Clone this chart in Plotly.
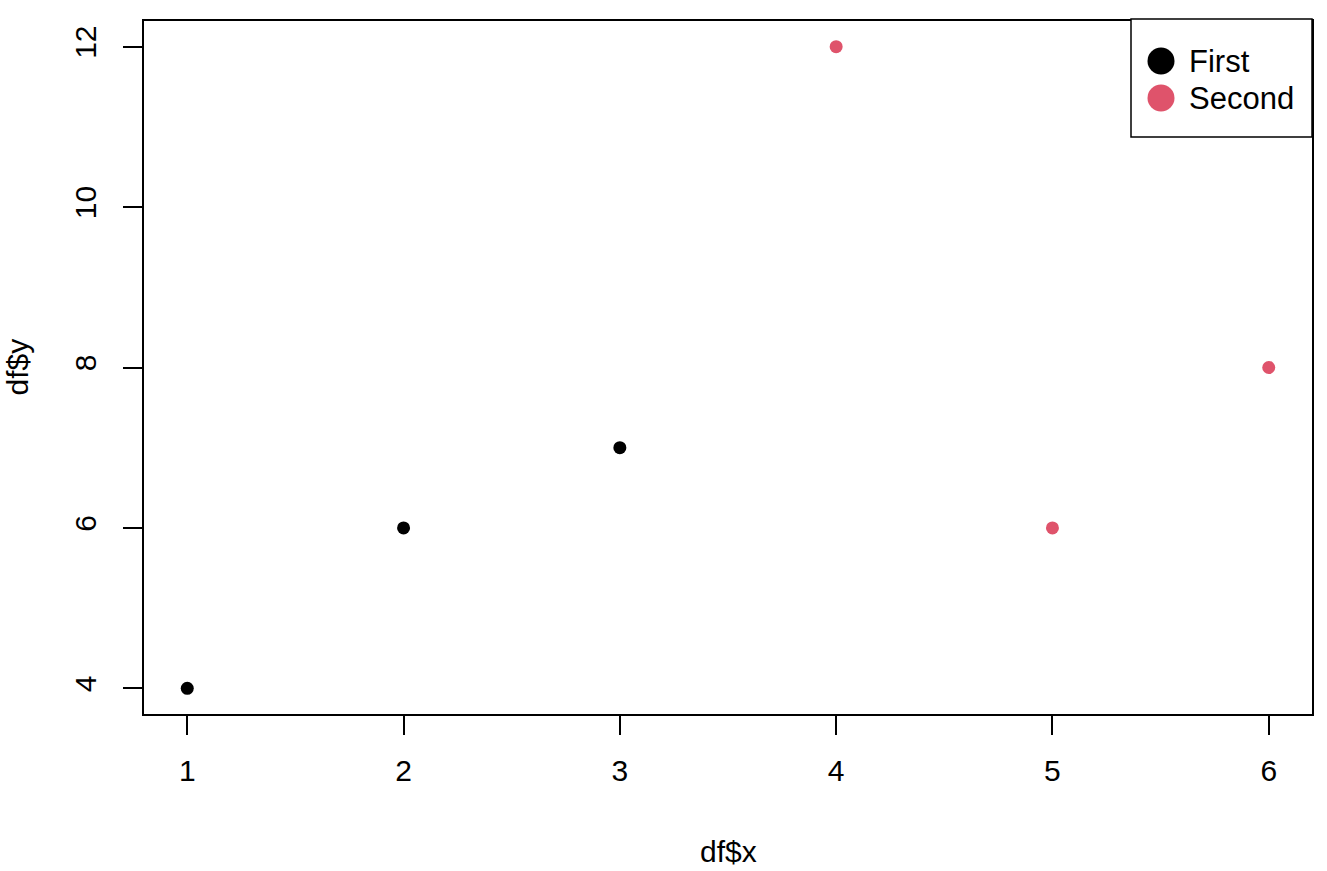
import plotly.graph_objects as go

# data
x_first = [1, 2, 3]
y_first = [4, 6, 7]
x_second = [4, 5, 6]
y_second = [12, 6, 8]
group_names = ["First", "Second"]
group_colors = ["#000000", "#DF536B"]

x_ticks = [1, 2, 3, 4, 5, 6]
y_ticks = [4, 6, 8, 10, 12]

font = "Liberation Sans, Arial, sans-serif"
fs = 30

# plot region in pixels (R-style device)
W, H = 1327, 871
L, R, T, B = 144, 15, 21, 157
pw, ph = W - L - R, H - T - B

fig = go.Figure()
fig.add_trace(go.Scatter(x=x_first, y=y_first, mode="markers", name=group_names[0],
                         marker=dict(color=group_colors[0], size=13)))
fig.add_trace(go.Scatter(x=x_second, y=y_second, mode="markers", name=group_names[1],
                         marker=dict(color=group_colors[1], size=13)))

axis_common = dict(
    showgrid=False, zeroline=False, automargin=False,
    showline=True, linecolor="black", linewidth=1.5, mirror=True,
    ticks="outside", ticklen=19, tickwidth=1.5, tickcolor="black",
    tickfont=dict(family=font, size=fs, color="black"),
)

fig.update_layout(
    width=W, height=H,
    margin=dict(l=L, r=R, t=T, b=B),
    paper_bgcolor="white", plot_bgcolor="white",
    showlegend=False,
    xaxis=dict(range=[0.8, 6.2], tickvals=x_ticks, ticklabelstandoff=10, **axis_common),
    yaxis=dict(range=[3.68, 12.32], tickvals=y_ticks, tickangle=-90,
               ticklabelstandoff=15, **axis_common),
)

# axis titles
fig.add_annotation(x=0.5, y=-(851 - (H - B)) / ph, xref="paper", yref="paper",
                   text="df$x", showarrow=False, xanchor="center", yanchor="middle",
                   font=dict(family=font, size=fs, color="black"))
fig.add_annotation(x=-(L - 17) / pw, y=0.5, xref="paper", yref="paper",
                   text="df$y", showarrow=False, textangle=-90,
                   xanchor="center", yanchor="middle",
                   font=dict(family=font, size=fs, color="black"))

# legend box drawn by hand (R style)
legend_top = 19
fig.add_shape(type="rect", xref="paper", yref="paper",
              x0=(1131 - L) / pw, x1=1.0, y0=1 - (137 - T) / ph, y1=1 + (T - legend_top) / ph,
              line=dict(color="black", width=1.5), fillcolor="white")
for i, (name, col) in enumerate(zip(group_names, group_colors)):
    yc = 1 - (61 + 37 * i - T) / ph
    xc = (1161 - L) / pw
    rx = 13.5 / pw
    ry = 13.5 / ph
    fig.add_shape(type="circle", xref="paper", yref="paper",
                  x0=xc - rx, x1=xc + rx, y0=yc - ry, y1=yc + ry,
                  line=dict(color=col, width=0), fillcolor=col)
    fig.add_annotation(x=(1187 - L) / pw, y=yc, xref="paper", yref="paper",
                       text=name, showarrow=False, xanchor="left", yanchor="middle",
                       font=dict(family=font, size=31, color="black"))

fig.write_html("out.html", config={"displayModeBar": False},
               post_script="document.body.style.margin='0';document.body.style.overflow='hidden';")
